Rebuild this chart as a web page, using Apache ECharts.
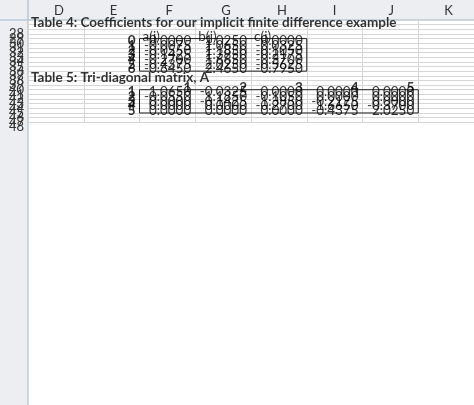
<!DOCTYPE html>
<html>
<head>
<meta charset="utf-8">
<script src="https://cdn.jsdelivr.net/npm/echarts@6/dist/echarts.min.js"></script>
<style>html,body{margin:0;padding:0;background:#fff}#main{width:474px;height:405px}</style>
</head>
<body>
<div id="main"></div>
<script>
// columns D..K, rows 27..48
var colNames = ['D','E','F','G','H','I','J','K'];
var firstRow = 27, lastRow = 49;
var title4 = 'Table 4: Coefficients for our implicit finite difference example';
var title5 = 'Table 5: Tri-diagonal matrix, A';
var coefHeads = ['a(j)','b(j)','c(j)'];
var jIndex = [0,1,2,3,4,5,6];
var aj = [0,-0.0075,-0.055,-0.1425,-0.27,-0.4375,-0.645];
var bj = [1.025,1.065,1.185,1.385,1.665,2.025,2.465];
var cj = [0,-0.0325,-0.105,-0.2175,-0.37,-0.5625,-0.795];
var matIndex = [1,2,3,4,5];

var font = 'Lato, "Open Sans", sans-serif';
var cells = [];   // [col, row, text, bold, align]
cells.push([0, 27, title4, true, 'left']);
cells.push([0, 39, title5, true, 'left']);
coefHeads.forEach(function(h,i){ cells.push([2+i, 30, h, false, 'left']); });
jIndex.forEach(function(j,i){
    cells.push([1, 31+i, String(j), true, 'right']);
    cells.push([2, 31+i, aj[i].toFixed(4), false, 'right']);
    cells.push([3, 31+i, bj[i].toFixed(4), false, 'right']);
    cells.push([4, 31+i, cj[i].toFixed(4), false, 'right']);
});
matIndex.forEach(function(m,i){
    cells.push([2+i, 41, String(m), true, 'right']);
    cells.push([1, 42+i, String(m), true, 'right']);
    matIndex.forEach(function(n,k){
        var v = 0;
        if(k==i) v = bj[m];
        else if(k==i-1) v = aj[m];
        else if(k==i+1) v = cj[m];
        cells.push([2+k, 42+i, v.toFixed(4), false, 'right']);
    });
});

var data = cells.map(function(c){
    var left = c[4]=='left';
    return {
        value:[left ? c[0] : c[0]+1, c[1]+0.5],
        label:{show:true, formatter:c[2], position:'inside', align:c[4],
            offset:[left?3:-4, 0], fontWeight:c[3]?'bold':'normal',
            fontSize:13.5, fontFamily:font, color:'#000'}
    };
});

function box(x0,y0,x1,y1){
    return {type:'line', symbol:'none', silent:true, z:3,
        lineStyle:{color:'#222', width:1},
        data:[[x0,y0],[x1,y0],[x1,y1],[x0,y1],[x0,y0]]};
}

var chart = echarts.init(document.getElementById('main'));
chart.setOption({
    animation:false,
    graphic:[
        {type:'rect', shape:{x:0,y:0,width:474,height:20}, style:{fill:'#eceef2'}, z:-1},
        {type:'rect', shape:{x:0,y:0,width:28,height:405}, style:{fill:'#eceef2'}, z:-1},
        {type:'line', shape:{x1:0,y1:20,x2:474,y2:20}, style:{stroke:'#9eb6ce'}},
        {type:'line', shape:{x1:28,y1:0,x2:28,y2:405}, style:{stroke:'#9eb6ce'}}
    ],
    grid:{left:28, top:20, width:488, height:409},
    xAxis:{type:'value', position:'top', min:0, max:8, interval:1,
        axisLine:{show:false}, axisTick:{show:false},
        splitLine:{show:true, lineStyle:{color:'#d6d6d6'}},
        axisLabel:{showMaxLabel:false, margin:3, align:'left', padding:[0,0,0,26],
            fontFamily:font, fontSize:13, color:'#333',
            formatter:function(v){ return colNames[v] || ''; }}},
    yAxis:{type:'value', inverse:true, min:firstRow, max:lastRow, interval:1,
        axisLine:{show:false}, axisTick:{show:false},
        splitLine:{show:true, lineStyle:{color:'#d6d6d6'}},
        axisLabel:{showMaxLabel:false, margin:4, verticalAlign:'top', padding:[3,0,0,0],
            fontFamily:font, fontSize:13, color:'#333'}},
    series:[
        {type:'scatter', symbolSize:0, data:data, z:4},
        box(2,31,5,38),
        box(2,42,7,47)
    ]
});
</script>
</body>
</html>
